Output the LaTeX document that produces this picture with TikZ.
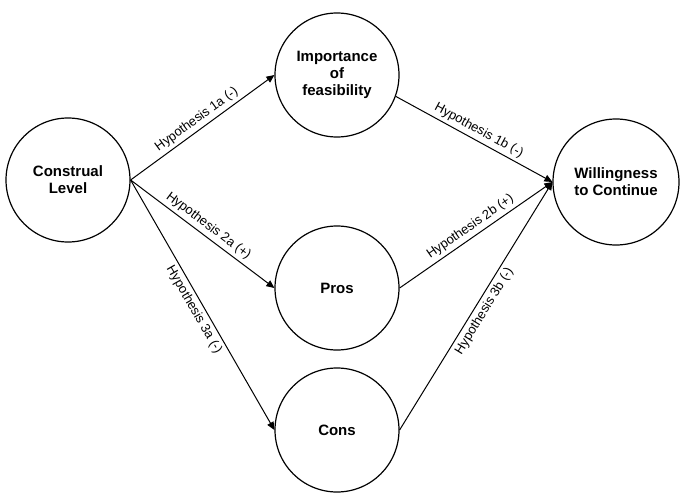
\documentclass[tikz,border=0pt]{standalone}
\usepackage{fontspec}
\setmainfont{Liberation Sans}
\usetikzlibrary{arrows.meta}
\begin{document}
\begin{tikzpicture}[x=1pt,y=-1pt,
  var/.style={circle,draw,line width=1.2pt,minimum size=124pt,inner sep=0pt,align=center,font=\fontsize{15}{17}\selectfont\bfseries},
  arr/.style={line width=1pt,-{Triangle[length=8pt,width=7pt]}},
  lab/.style={midway,sloped,font=\fontsize{13}{15}\selectfont}]
\useasboundingbox (0,0) rectangle (685,495);
\node[var] (cl) at (68,180) {Construal\\Level};
\node[var] (imp) at (337,75) {Importance\\of\\feasibility};
\node[var] (pros) at (337,288) {Pros};
\node[var] (cons) at (337,430) {Cons};
\node[var,minimum size=126pt] (wil) at (616,182) {Willingness\\to Continue};
\draw[arr] (cl.east) -- (imp.west) node[lab,above] {Hypothesis 1a (-)};
\draw[arr] (cl.east) -- (pros.west) node[lab,above] {Hypothesis 2a (+)};
\draw[arr] (cl.east) -- (cons.west) node[lab,below] {Hypothesis 3a (-)};
\draw[arr] (imp.-20) -- (wil.west) node[lab,above] {Hypothesis 1b (-)};
\draw[arr] (pros.east) -- (wil.west) node[lab,above] {Hypothesis 2b (+)};
\draw[arr] (cons.east) -- (wil.west) node[lab,below] {Hypothesis 3b (-)};
\end{tikzpicture}
\end{document}
